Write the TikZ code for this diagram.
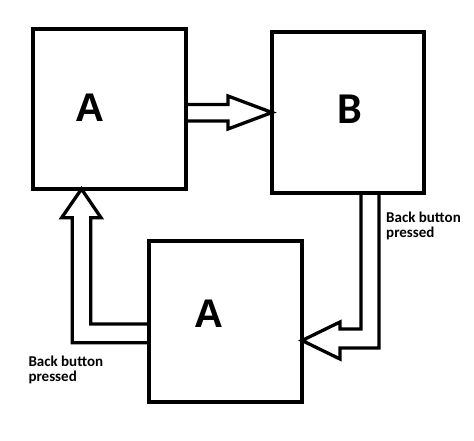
\documentclass[tikz,border=0pt]{standalone}
\usepackage{fontspec}
\setmainfont{Liberation Sans}
\newfontfamily\calib{Carlito}
\usetikzlibrary{calc}
\begin{document}
\begin{tikzpicture}[x=1pt,y=-1pt,
  box/.style={draw=black, line width=3.3pt, inner sep=0pt, outer sep=0pt},
  bigletter/.style={font=\fontsize{40}{40}\selectfont\bfseries, inner sep=0pt},
  bigletterB/.style={font=\calib\bfseries\fontsize{44}{44}\selectfont, inner sep=0pt},
  note/.style={font=\calib\bfseries\fontsize{15}{14.5}\selectfont, align=left, inner sep=0pt, anchor=base west},
  blockarrow/.style={draw=black, line width=3.3pt, line join=miter}]
\path[fill=white] (0,0) rectangle (474,440);
\useasboundingbox (0,0) rectangle (474,440);
% boxes
\node[box, minimum width=153pt, minimum height=160pt] (A1) at (109.5,109) {};
\node[box, minimum width=152pt, minimum height=161pt] (B) at (348,112.5) {};
\node[box, minimum width=153pt, minimum height=161pt] (A2) at (225.5,321.5) {};
% letters
\node[bigletter] (lA1) at (90,108) {A};
\node[bigletterB] (lB) at (349.5,109) {B};
\node[bigletter] (lA2) at (209,313.5) {A};
% arrow A -> B
\draw[blockarrow] ($(A1.east)+(0,-4.5)$) -- (228,104.5) -- (228,96) -- (B.west)
  -- (228,129) -- (228,121) -- ($(A1.east)+(0,12)$);
% arrow B -> A (bottom)
\draw[blockarrow] ($(B.south)+(13,0)$) -- (361,329) -- (340,329) -- (340,322)
  -- ($(A2.east)+(0,19)$) -- (340,359) -- (340,348) -- (379,348) -- ($(B.south)+(31,0)$);
% arrow A (bottom) -> A (top)
\draw[blockarrow] ($(A2.west)+(0,2.5)$) -- (90.7,324) -- (90.7,217.7) -- (101,217.7)
  -- ($(A1.south)+(-28,0)$) -- (61.7,217.7) -- (72.3,217.7) -- (72.3,342.7) -- ($(A2.west)+(0,21.2)$);
% labels
\node[note] (n1) at (386,237) {Back button\\pressed};
\node[note] (n2) at (28.3,381) {Back button\\pressed};
\end{tikzpicture}
\end{document}
